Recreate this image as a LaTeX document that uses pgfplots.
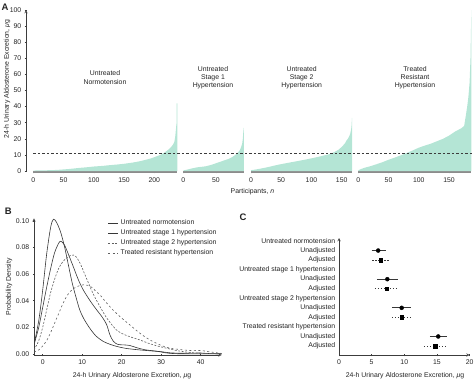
\documentclass[border=0pt]{standalone}
\usepackage{pgfplots}
\pgfplotsset{compat=1.18}
\usepackage{fontspec}
\setmainfont{Liberation Sans}
\definecolor{barfill}{RGB}{180,229,213}
\definecolor{txt}{RGB}{35,35,35}
\definecolor{axl}{RGB}{60,60,60}
\definecolor{xgray}{RGB}{140,140,140}
\definecolor{cdark}{RGB}{55,55,55}
\definecolor{cdash}{RGB}{95,95,95}
\newcommand{\fs}{\fontsize{6.9}{8.4}\selectfont}
\begin{document}
\begin{tikzpicture}[font=\fs, text=txt]
\pgfplotsset{
  base/.style={scale only axis, anchor=south west, font=\fs,
    /pgf/number format/assume math mode=true, tick align=outside,
    major tick length=2.5bp, minor tick num=0,
    axis line style={-, draw=axl, line width=0.5bp},
    tick style={draw=axl, line width=0.5bp},
    tick label style={text=txt}},
  panelA/.style={base, height=162bp, ymin=-0.6, ymax=100,
    axis y line=none, axis x line=bottom, ytick=\empty,
    x axis line style={-, draw=xgray, line width=1.6bp},
    xticklabel style={yshift=-0.5bp}},
}
% ---------------- Panel A ----------------
\begin{axis}[base, at={(26bp,-171bp)}, width=10bp, height=161bp,
  xmin=0, xmax=1, ymin=0, ymax=100, axis x line=none, axis y line=left,
  ytick={0,10,...,100}, xtick=\empty]
\end{axis}
\begin{axis}[panelA, at={(33.3bp,-172bp)}, width=144bp, xmin=0, xmax=238,
  xtick={0,50,100,150,200}]
\addplot[fill=barfill, draw=none] coordinates {(0,0.3) (10,0.4) (25,0.5) (40,0.7) (50,1.0) (60,1.3) (75,1.9) (90,2.4) (100,2.8) (115,3.2) (125,3.6) (140,4.1) (150,4.5) (165,5.3) (175,6.0) (185,6.9) (195,7.9) (200,8.6) (210,10.0) (218,11.8) (224,13.5) (228,15.0) (231,16.5) (233,18) (234.5,21) (235.5,25) (236.5,29) (237,30) (237,42) (238,42) (238,0)} \closedcycle;
\end{axis}
\begin{axis}[panelA, at={(183.3bp,-172bp)}, width=60.5bp, xmin=0, xmax=93,
  xtick={0,50}]
\addplot[fill=barfill, draw=none] coordinates {(0,0.4) (5,0.8) (10,1.3) (15,1.8) (20,2.2) (25,2.5) (30,2.7) (35,3.0) (40,3.5) (45,4.1) (50,4.8) (55,5.5) (60,6.2) (65,6.9) (70,7.6) (75,8.6) (80,10) (84,11.5) (87,13) (89,15) (90.5,17) (91.5,20) (92.2,24) (93,27) (93,0)} \closedcycle;
\end{axis}
\begin{axis}[panelA, at={(251bp,-172bp)}, width=101bp, xmin=0, xmax=167,
  xtick={0,50,100,150}]
\addplot[fill=barfill, draw=none] coordinates {(0,0.5) (10,1.1) (20,1.8) (30,2.6) (40,3.5) (50,4.3) (60,5.0) (70,5.7) (80,6.4) (90,7.1) (100,7.9) (110,8.7) (120,9.6) (130,10.5) (138,11.8) (145,13.3) (150,15) (155,17) (158,19) (161,20.5) (164,23) (166,27) (167,33) (167,0)} \closedcycle;
\end{axis}
\begin{axis}[panelA, at={(358.3bp,-172bp)}, width=113.1bp, xmin=0, xmax=187,
  xtick={0,50,100,150}, clip=false]
\addplot[fill=barfill, draw=none] coordinates {(0,0.5) (5,1.3) (10,2) (20,3) (30,4.2) (40,5.5) (50,7) (60,8.3) (70,9.7) (80,11.2) (90,12.8) (100,14.5) (110,15.8) (120,17) (130,18.5) (140,20) (150,22) (160,24.5) (170,26.5) (175,28) (178,35) (180,40) (182,46) (184,55) (185.5,70) (186.3,88) (187,100) (187,0)} \closedcycle;
\addplot[draw=axl, line width=0.6bp, dash pattern=on 2.5bp off 2bp] coordinates {(-537.2,11.3) (191.2,11.3)};
\end{axis}
\node[font=\fs, align=center] at (105bp,-77.5bp) {Untreated\\Normotension};
\node[font=\fs, align=center] at (213bp,-77.7bp) {Untreated\\Stage 1\\Hypertension};
\node[font=\fs, align=center] at (301.7bp,-77.7bp) {Untreated\\Stage 2\\Hypertension};
\node[font=\fs, align=center] at (415bp,-77.7bp) {Treated\\Resistant\\Hypertension};
\node[font=\fs] at (252.5bp,-191.5bp) {Participants, \textit{n}};
\node[font=\fs, rotate=90] at (7bp,-79bp) {24-h Urinary Aldosterone Excretion, \textit{μ}g};
\node[font=\fontsize{9.5}{10}\selectfont\bfseries] at (5bp,-7.5bp) {A};
% ---------------- Panel B ----------------
\begin{axis}[base, at={(34bp,-355bp)}, width=187.6bp, height=136.7bp,
  xmin=-2.2, xmax=45.3, ymin=-0.0008, ymax=0.102,
  axis lines=left, xtick={0,10,20,30,40}, ytick={0,0.02,...,0.1},
  yticklabel style={/pgf/number format/.cd, fixed, fixed zerofill, precision=2},
  legend style={at={(0.394,1.004)}, anchor=north west, draw=none, fill=none,
    font=\fs, row sep=0pt, inner sep=0pt,
    nodes={inner sep=1.9bp, text height=4.8bp, text depth=1.4bp}},
  legend cell align=left,
  legend image code/.code={\draw[#1] (0bp,0bp) -- (10bp,0bp);}]
\addplot[cdark, line width=0.6bp, smooth, tension=0.5] coordinates {(-2.2,0.007) (-1,0.025) (0,0.048) (1,0.075) (2,0.095) (2.7,0.1013) (3.5,0.099) (4.5,0.092) (5.5,0.081) (6.5,0.067) (7.5,0.053) (8.5,0.042) (9.4,0.033) (10.5,0.026) (12,0.019) (13.5,0.0135) (15.3,0.0095) (17,0.0073) (18.7,0.0057) (21,0.0042) (24.6,0.003) (27,0.0024) (30,0.0017) (32,0.0009) (35,0.0005) (38,0.0006) (40,0.0007) (42,0.0003) (45.3,0.0001)};
\addlegendentry{Untreated normotension}
\addplot[cdark, line width=0.6bp, smooth, tension=0.5] coordinates {(-2.2,0.007) (-1,0.02) (0,0.035) (1,0.05) (2,0.064) (3,0.076) (4,0.083) (4.6,0.0848) (5.5,0.082) (6.5,0.075) (7.7,0.066) (9,0.056) (10.3,0.048) (12,0.040) (13.7,0.033) (15,0.028) (16.2,0.022) (17,0.0145) (17.9,0.0095) (19,0.0072) (20.5,0.0068) (22,0.0064) (23.8,0.0047) (26,0.0031) (29,0.002) (31,0.0009) (33,0.0003) (36,0.0001) (45.3,0)};
\addlegendentry{Untreated stage 1 hypertension}
\addplot[cdash, line width=0.6bp, dash pattern=on 2bp off 1.5bp, smooth, tension=0.5] coordinates {(-2.2,0.003) (-1,0.01) (0,0.02) (1,0.033) (2,0.046) (3,0.056) (4,0.064) (5,0.069) (6,0.072) (7,0.074) (7.75,0.0744) (8.5,0.073) (9.5,0.068) (10.5,0.061) (11.5,0.054) (12.5,0.047) (13.5,0.041) (14.5,0.0356) (16,0.028) (17.5,0.022) (18.7,0.018) (20,0.0155) (22,0.013) (24.6,0.0105) (27,0.0078) (29,0.006) (31.4,0.0043) (34,0.0025) (37,0.0012) (40,0.0005) (45.3,0.0001)};
\addlegendentry{Untreated stage 2 hypertension}
\addplot[cdash, line width=0.6bp, dash pattern=on 2bp off 2.5bp, smooth, tension=0.5] coordinates {(-2.2,0.0015) (-1,0.003) (0,0.006) (1,0.01) (2,0.016) (3,0.023) (4,0.030) (5,0.037) (6,0.043) (7,0.047) (8,0.0495) (9,0.051) (10.3,0.052) (11.5,0.0515) (12.5,0.05) (13.5,0.047) (14.5,0.0444) (16,0.039) (17.5,0.034) (19.6,0.028) (22,0.022) (24.6,0.0156) (27,0.0108) (29.7,0.0068) (32,0.0045) (35.6,0.003) (38,0.0025) (40,0.0026) (42,0.0017) (45.3,0.0004)};
\addlegendentry{Treated resistant hypertension}
\end{axis}
\node[font=\fs, rotate=90] at (9bp,-287bp) {Probability Density};
\node[font=\fs] at (132bp,-376bp) {24-h Urinary Aldosterone Excretion, \textit{μ}g};
\node[font=\fontsize{9.5}{10}\selectfont\bfseries] at (8.3bp,-211.7bp) {B};
% ---------------- Panel C ----------------
\begin{axis}[base, at={(339bp,-355bp)}, width=130.6bp, height=117bp,
  xmin=0, xmax=20, ymin=-12.94, ymax=-0.686,
  axis x line=bottom, axis y line=left, xtick={0,5,10,15,20},
  ytick={-1,-2,...,-12}, y tick style={draw=none},
  yticklabel style={xshift=1bp},
  yticklabels={Untreated normotension, Unadjusted, Adjusted,
    Untreated stage 1 hypertension, Unadjusted, Adjusted,
    Untreated stage 2 hypertension, Unadjusted, Adjusted,
    Treated resistant hypertension, Unadjusted, Adjusted}]
\addplot[cdark, line width=0.7bp] coordinates {(5.0,-2) (7.15,-2)};
\addplot[cdark, line width=0.7bp] coordinates {(5.8,-5) (9.0,-5)};
\addplot[cdark, line width=0.7bp] coordinates {(8.1,-8) (11.0,-8)};
\addplot[cdark, line width=0.7bp] coordinates {(13.9,-11) (16.6,-11)};
\addplot[cdark, line width=0.6bp, dash pattern=on 1.5bp off 1.5bp] coordinates {(5.1,-3) (7.8,-3)};
\addplot[cdark, line width=0.6bp, dash pattern=on 1.5bp off 1.5bp] coordinates {(5.5,-6) (9.0,-6)};
\addplot[cdark, line width=0.6bp, dash pattern=on 1.5bp off 1.5bp] coordinates {(8.1,-9) (11.2,-9)};
\addplot[cdark, line width=0.6bp, dash pattern=on 1.5bp off 1.5bp] coordinates {(13.0,-12) (16.5,-12)};
\addplot[only marks, mark=*, mark size=2bp, black] coordinates {(6.0,-2) (7.4,-5) (9.6,-8) (15.2,-11)};
\addplot[only marks, mark=square*, mark size=1.9bp, black] coordinates {(6.4,-3) (7.3,-6) (9.6,-9) (14.7,-12)};
\end{axis}
\node[font=\fs] at (405bp,-376bp) {24-h Urinary Aldosterone Excretion, \textit{μ}g};
\node[font=\fontsize{9.5}{10}\selectfont\bfseries] at (243bp,-217bp) {C};
\pgfresetboundingbox
\useasboundingbox (0,0) rectangle (474bp,-380bp);
\end{tikzpicture}
\end{document}
